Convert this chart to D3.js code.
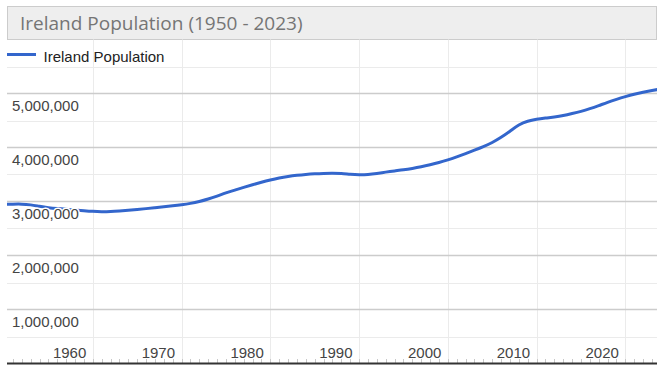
<!DOCTYPE html>
<html><head><meta charset="utf-8">
<script src="https://cdn.jsdelivr.net/npm/d3@7"></script>
<style>html,body{margin:0;padding:0;background:#fff;}svg{display:block;}</style>
</head><body>
<svg id="chart" width="662" height="366"></svg>
<script>
const title = "Ireland Population (1950 - 2023)";
const seriesName = "Ireland Population";
const years = [1950,1951,1952,1953,1954,1955,1956,1957,1958,1959,
  1960,1961,1962,1963,1964,1965,1966,1967,1968,1969,
  1970,1971,1972,1973,1974,1975,1976,1977,1978,1979,
  1980,1981,1982,1983,1984,1985,1986,1987,1988,1989,
  1990,1991,1992,1993,1994,1995,1996,1997,1998,1999,
  2000,2001,2002,2003,2004,2005,2006,2007,2008,2009,
  2010,2011,2012,2013,2014,2015,2016,2017,2018,2019,
  2020,2021,2022,2023,2024];
const population = [2945000,2951000,2954000,2940000,2910000,2885000,2868000,2856000,2845000,2830000,
  2816000,2810000,2814000,2825000,2838000,2852000,2868000,2885000,2902000,2920000,
  2940000,2964000,2998000,3045000,3100000,3160000,3212000,3262000,3310000,3357000,
  3400000,3438000,3466000,3487000,3503000,3514000,3521000,3524000,3520000,3503000,
  3493000,3498000,3518000,3545000,3567000,3586000,3612000,3643000,3680000,3720000,
  3768000,3826000,3887000,3950000,4015000,4090000,4185000,4300000,4425000,4492000,
  4524000,4545000,4565000,4590000,4628000,4668000,4718000,4776000,4838000,4892000,
  4942000,4988000,5025000,5055000,5085000];
const xTickYears = [1960,1970,1980,1990,2000,2010,2020];
const yMajorTicks = [1000000,2000000,3000000,4000000,5000000,6000000];
const yMinorTicks = [500000,1500000,2500000,3500000,4500000,5500000];
const yLabelTicks = [1000000,2000000,3000000,4000000,5000000];

(function () {
const svg = d3.select("#chart");
const pl = 7, pr = 657, pt = 39.5, pb = 363.5;
const x = d3.scaleLinear().domain([1950, 2023]).range([4, 652]);
const y = d3.scaleLinear().domain([0, 6000000]).range([pb, pt]);

svg.append("rect").attr("x", 7.5).attr("y", 6.5).attr("width", 649).attr("height", 33)
  .attr("fill", "#eeeeee").attr("stroke", "#cccccc").attr("stroke-width", 1);
svg.append("text").attr("x", 20).attr("y", 29.5).text(title)
  .attr("font-family", "'Open Sans', sans-serif").attr("font-size", 19).attr("fill", "#757575");

svg.append("defs").append("clipPath").attr("id", "plotclip")
  .append("rect").attr("x", pl).attr("y", pt).attr("width", pr - pl).attr("height", pb - pt);

const grid = svg.append("g");
grid.selectAll("line.hmin").data(yMinorTicks.filter(v => y(v) > 40)).join("line")
  .attr("x1", pl).attr("x2", pr)
  .attr("y1", d => Math.round(y(d)) + 0.5).attr("y2", d => Math.round(y(d)) + 0.5)
  .attr("stroke", "#ebebeb").attr("stroke-width", 1);
grid.selectAll("line.v").data(xTickYears).join("line")
  .attr("x1", d => Math.round(x(d)) + 0.5).attr("x2", d => Math.round(x(d)) + 0.5)
  .attr("y1", pt).attr("y2", pb)
  .attr("stroke", "#ebebeb").attr("stroke-width", 1);
grid.selectAll("line.hmaj").data(yMajorTicks.filter(v => y(v) > 41)).join("line")
  .attr("x1", pl).attr("x2", pr)
  .attr("y1", d => y(d)).attr("y2", d => y(d))
  .attr("stroke", "#cccccc").attr("stroke-width", 1.5);

const line = d3.line().x((d, i) => x(years[i])).y(d => y(d)).curve(d3.curveBasis);
svg.append("g").attr("clip-path", "url(#plotclip)")
  .append("path").datum(population).attr("d", line)
  .attr("fill", "none").attr("stroke", "#3366cc").attr("stroke-width", 3)
  .attr("stroke-linejoin", "round").attr("stroke-linecap", "round");

const fmt = d3.format(",");
svg.append("g").selectAll("text").data(yLabelTicks).join("text")
  .attr("x", 12).attr("y", d => y(d) + 17.7).text(d => fmt(d))
  .attr("font-family", "'Liberation Sans', Arial, sans-serif").attr("font-size", 15)
  .attr("fill", "#444444").attr("stroke", "#ffffff").attr("stroke-width", 3)
  .attr("paint-order", "stroke").attr("stroke-linejoin", "round");

svg.append("g").selectAll("text").data(xTickYears).join("text")
  .attr("x", d => x(d) - 6.5).attr("y", 358.3).attr("text-anchor", "end").text(d => d)
  .attr("font-family", "'Liberation Sans', Arial, sans-serif").attr("font-size", 15)
  .attr("fill", "#444444");

svg.append("g").selectAll("line").data(years.filter(d => x(d) > pl && x(d) < pr)).join("line")
  .attr("x1", d => Math.round(x(d)) + 0.5).attr("x2", d => Math.round(x(d)) + 0.5)
  .attr("y1", 359).attr("y2", 363)
  .attr("stroke", "#c8c8c8").attr("stroke-width", 1);

svg.append("line").attr("x1", pl).attr("x2", pr).attr("y1", 363.5).attr("y2", 363.5)
  .attr("stroke", "#333333").attr("stroke-width", 2);

svg.append("line").attr("x1", 7).attr("x2", 36).attr("y1", 54.5).attr("y2", 54.5)
  .attr("stroke", "#3366cc").attr("stroke-width", 3);
svg.append("text").attr("x", 43.5).attr("y", 61.5).text(seriesName)
  .attr("font-family", "'Liberation Sans', Arial, sans-serif").attr("font-size", 15)
  .attr("fill", "#222222");
})();
</script>
</body></html>
